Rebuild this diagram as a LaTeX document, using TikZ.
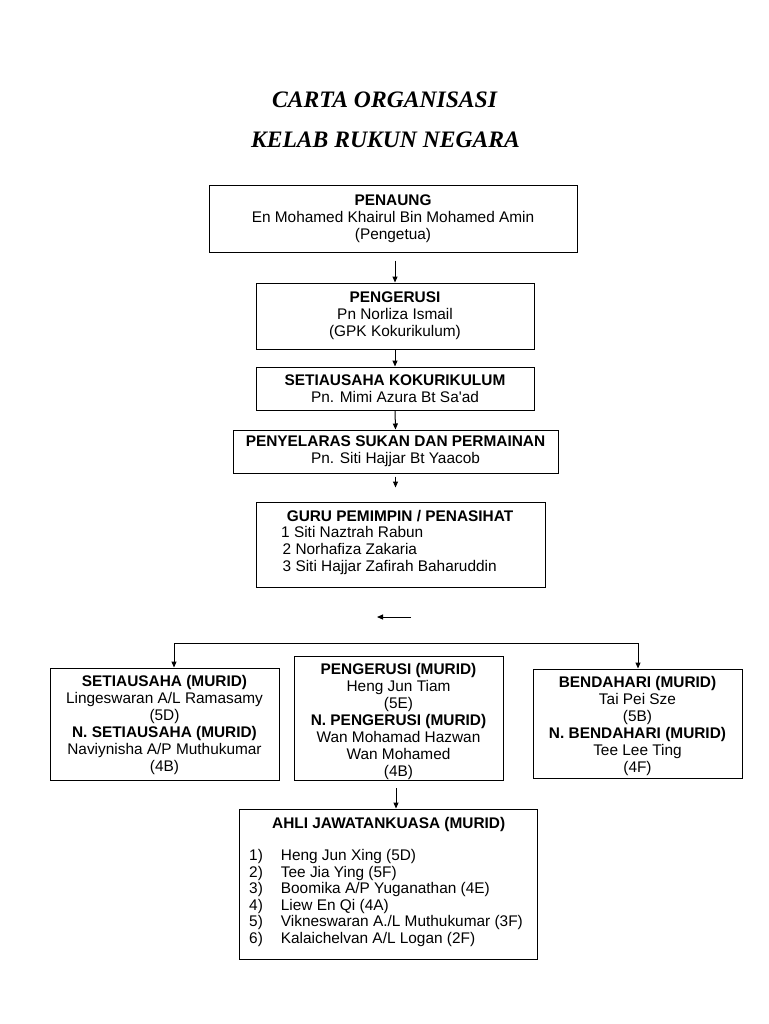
\documentclass[tikz,border=0pt]{standalone}
\usepackage{fontspec}
\setmainfont{Liberation Sans}
\newfontfamily\titlefont{Liberation Serif}
\usetikzlibrary{arrows.meta}
\begin{document}
\begin{tikzpicture}[x=1pt,y=-1pt,
  box/.style={draw, line width=1pt, inner sep=0pt, font=\fontsize{15.4}{17}\selectfont, align=center},
  txt/.style={font=\fontsize{15.4}{17}\selectfont, inner sep=0pt},
  ttl/.style={font=\fontsize{23.6}{27}\titlefont\bfseries\itshape, inner sep=0pt, anchor=base},
  arr/.style={line width=1pt, -{Triangle[length=6pt,width=5pt]}},
  ln/.style={line width=1pt}]
\useasboundingbox[fill=white] (0,0) rectangle (768,1024);

% titles
\node[ttl] (t1) at (384.5,107.5) {CARTA ORGANISASI};
\node[ttl] (t2) at (385.5,147.5) {KELAB RUKUN NEGARA};

% boxes
\node[box, minimum width=368pt, minimum height=66pt] (penaung) at (393,219)
  {\textbf{PENAUNG}\\En Mohamed Khairul Bin Mohamed Amin\\(Pengetua)};
\node[box, minimum width=278pt, minimum height=66pt] (pengerusi) at (395,316)
  {\textbf{PENGERUSI}\\Pn Norliza Ismail\\(GPK Kokurikulum)};
\node[box, minimum width=278pt, minimum height=43pt] (setia) at (395,388.5)
  {\textbf{SETIAUSAHA KOKURIKULUM}\\Pn. Mimi Azura Bt Sa\textquotesingle ad};
\node[box, minimum width=325pt, minimum height=43pt] (peny) at (395.5,451.5)
  {\textbf{PENYELARAS SUKAN DAN PERMAINAN}\\Pn. Siti Hajjar Bt Yaacob};
\node[box, minimum width=289pt, minimum height=85pt] (guru) at (400.5,544.5) {};
\node[txt, anchor=base] (gurut) at (400,521.5) {\textbf{GURU PEMIMPIN / PENASIHAT}};
\node[txt, anchor=base west] (g1) at (281,537.5) {1 Siti Naztrah Rabun};
\node[txt, anchor=base west] (g2) at (282.5,554.5) {2 Norhafiza Zakaria};
\node[txt, anchor=base west] (g3) at (282.5,571.5) {3 Siti Hajjar Zafirah Baharuddin};

\node[box, minimum width=229pt, minimum height=112pt] (left) at (164.5,724) {};
\node[txt, align=center] (leftt) at (164.5,725)
  {\textbf{SETIAUSAHA (MURID)}\\Lingeswaran A/L Ramasamy\\(5D)\\\textbf{N. SETIAUSAHA (MURID)}\\Naviynisha A/P Muthukumar\\(4B)};
\node[box, minimum width=209pt, minimum height=124pt] (mid) at (398.5,718.5) {};
\node[txt, align=center] (midt) at (398.5,722)
  {\textbf{PENGERUSI (MURID)}\\Heng Jun Tiam\\(5E)\\\textbf{N. PENGERUSI (MURID)}\\Wan Mohamad Hazwan\\Wan Mohamed\\(4B)};
\node[box, minimum width=209pt, minimum height=109pt] (right) at (637.5,723.5) {};
\node[txt, align=center] (rightt) at (637.5,726)
  {\textbf{BENDAHARI (MURID)}\\Tai Pei Sze\\(5B)\\\textbf{N. BENDAHARI (MURID)}\\Tee Lee Ting\\(4F)};

\node[box, minimum width=298pt, minimum height=150pt] (bottom) at (388,884) {};
\node[txt, anchor=base] (bt) at (388.7,828.5) {\textbf{AHLI JAWATANKUASA (MURID)}};
\foreach \i/\nm in {1/{Heng Jun Xing (5D)}, 2/{Tee Jia Ying (5F)}, 3/{Boomika A/P Yuganathan (4E)}, 4/{Liew En Qi (4A)}, 5/{Vikneswaran A./L Muthukumar (3F)}, 6/{Kalaichelvan A/L Logan (2F)}}
  \node[txt, anchor=base west] (item\i) at (249,{860.5+16.6*(\i-1)}) {\makebox[31.7pt][l]{\i)}\nm};

% connectors
\draw[arr] ([yshift=-8pt]penaung.south -| pengerusi.north) -- (pengerusi.north);
\draw[arr] (pengerusi.south) -- (setia.north);
\draw[arr] (setia.south) -- (peny.north);
\draw[arr] ([yshift=-3pt]peny.south) -- ([yshift=14pt]guru.north -| peny.south);

\coordinate (fa) at (411,617);
\coordinate (fb) at (377,617);
\draw[arr] (fa) -- (fb);

\coordinate (hl) at (174,643);
\coordinate (hr) at (638,643);
\draw[ln] (hl) -- (hr);
\draw[arr] (hl) -- (hl |- left.north);
\draw[arr] (hr) -- (hr |- right.north);

\draw[arr] ([xshift=-2.5pt,yshift=-7pt]mid.south) -- ([xshift=-2.5pt]mid.south |- bottom.north);
\end{tikzpicture}
\end{document}
